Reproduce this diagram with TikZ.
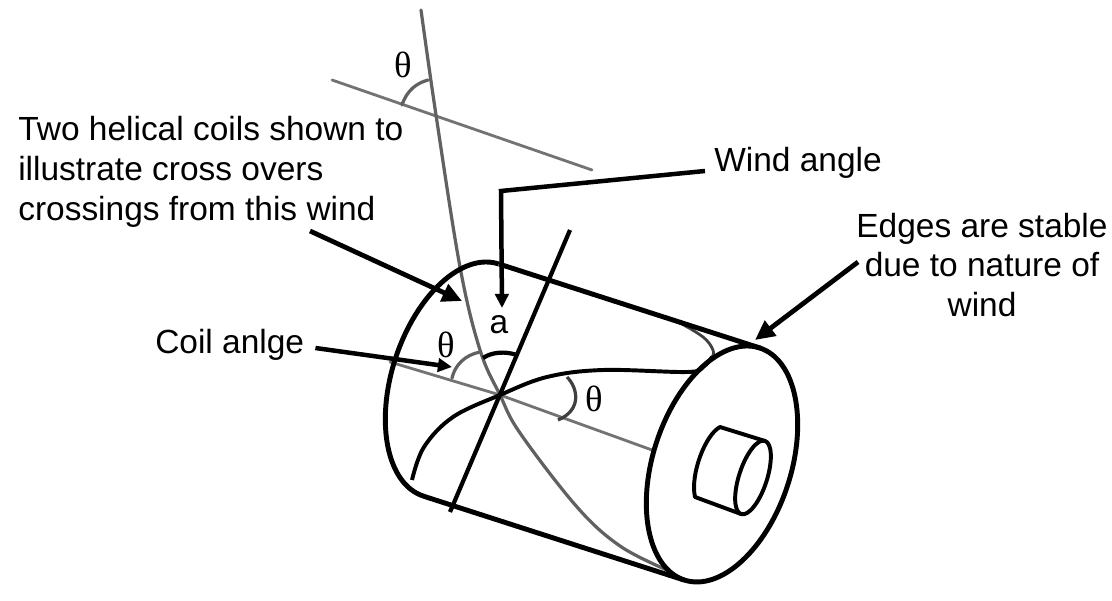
\documentclass[tikz,border=0pt]{standalone}
\usepackage{fontspec}
\setmainfont{Liberation Sans}
\newfontfamily\thetafont{Liberation Serif}
\usetikzlibrary{arrows.meta}
\tikzset{body/.style={draw,line width=3.5pt,line join=round},
         coil/.style={draw,line width=2.3pt,black!62,line cap=round},
         axisline/.style={draw,line width=2pt,black!55,line cap=round},
         pointer/.style={line width=3.4pt,-{Triangle[length=14pt,width=13pt]}},
         smallpointer/.style={line width=3.2pt,-{Triangle[length=10pt,width=9.5pt]}},
         caption/.style={font=\fontsize{23.8}{28.3}\selectfont,inner sep=0pt},
         angletext/.style={font=\thetafont\fontsize{26}{26}\selectfont,inner sep=0pt},
        }

\begin{document}
\begin{tikzpicture}[x=0.025cm,y=0.025cm]
        \useasboundingbox (0,0) rectangle (1112,600);

        % labels
        \node[caption, align=left, anchor=west](coils)at(18,428){Two helical coils shown to\\illustrate cross overs\\crossings from this wind};
        \node[caption, anchor=west](wind)at(714,437){Wind angle};
        \node[caption, align=center](edges)at(982,335){Edges are stable\\due to nature of\\wind};
        \node[caption, anchor=west](coilangle)at(155,255){Coil anlge};
        \node[angletext](t1)at(403,535){θ};
        \node[angletext](t2)at(446,255){θ};
        \node[angletext](t3)at(594,201){θ};
        \node[caption](alpha)at(499,275){a};

        \coordinate(mid)at(500,205);
        \coordinate(front)at(722,136);
        \coordinate(back)at(461,220);
        \coordinate(hub)at(753,122.5);

        % reference lines
        \draw[axisline](390,238)--(mid)--(652,150);
        \draw[axisline](332,520)--(592,430);

        % the two coils
        \draw[coil]plot[smooth,tension=0.6]coordinates{(421,590)(436,485)(460,333)(480,250)(mid)(520,167)(577,93)(620,54)(667,30)};
        \draw[line width=2.8pt]plot[smooth,tension=0.6]coordinates{(412,120)(424,153)(453,183)(mid)(547,223)(603,230)(687,228)(703,233)(712,243)};
        \draw[line width=2pt,black!75]plot[smooth,tension=0.7]coordinates{(712,243)(713,250)(703,263)(680,277)};
        \draw[line width=3pt](570,370)--(450,88);

        % angle marks
        \draw[coil](402,495)..controls(407,510)and(417,517)..(428,520);
        \draw[coil](452,222)..controls(455,235)and(465,245)..(480,248);
        \draw[line width=3pt](483,242)..controls(492,248)and(505,249)..(517,245);
        \draw[line width=2.3pt,black!75](567,223)..controls(578,212)and(582,190)..(558,180);

        % cylinder
        \draw[body,rotate around={72:(back)}](back)++(122,0)arc[start angle=0,end angle=180,x radius=122,y radius=69];
        \draw[body](423,104)--(684,20);
        \draw[body](499,336)--(760,252);
        \draw[body,rotate around={72:(front)}](front)ellipse(122 and 69);

        % hub
        \draw[body,line width=2.8pt](765,159)--(720,173)..controls(705,165)and(690,125)..(695,103)--(741,86);
        \draw[body,line width=2.8pt,rotate around={72:(hub)}](hub)ellipse(38.5 and 14);

        % arrows
        \coordinate(windtip)at(502,292);
        \coordinate(coilstip)at(462,299);
        \coordinate(coiltip)at(452,233);
        \coordinate(edgetip)at(755,260);
        \draw[smallpointer](wind.west)++(-9,-8)--(501,409)--(windtip);
        \draw[pointer](310,369)--(coilstip);
        \draw[smallpointer](coilangle.east)++(11,-3)--(coiltip);
        \draw[pointer](858,338)--(edgetip);
    \end{tikzpicture}
\end{document}
